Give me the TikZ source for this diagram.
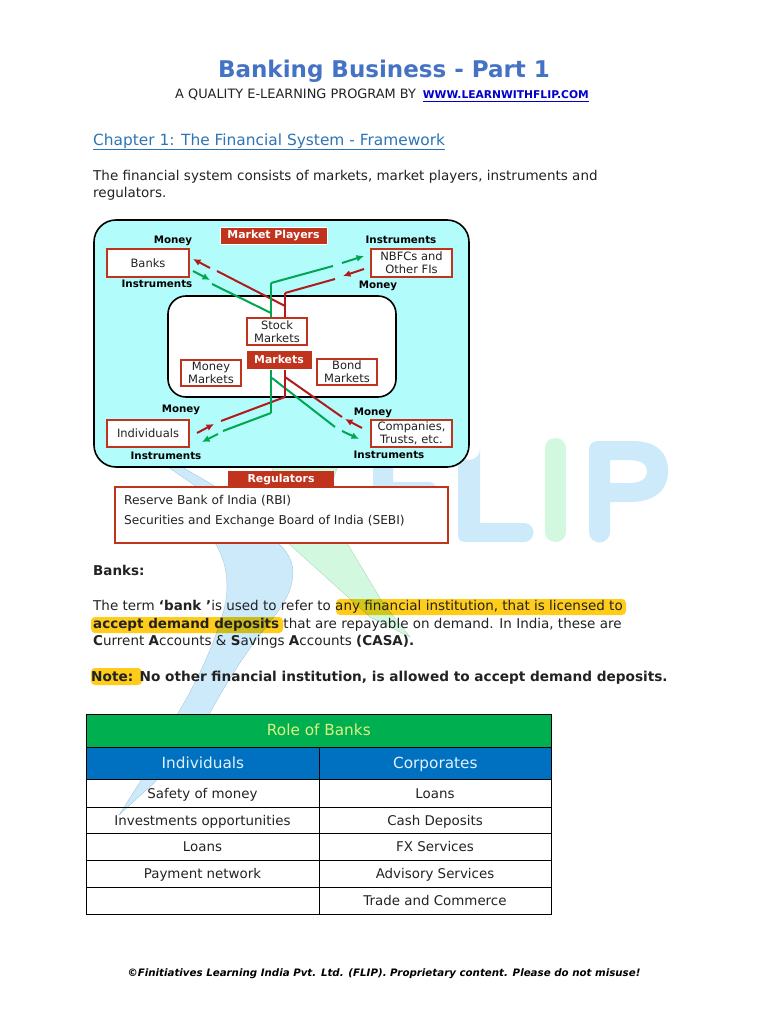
\documentclass[tikz,border=0pt]{standalone}
\usepackage{fontspec}
\setmainfont{DejaVu Sans}
\usetikzlibrary{calc, arrows.meta}
\definecolor{titleblue}{HTML}{4472C4}
\definecolor{chapterblue}{HTML}{2E74B5}
\definecolor{linkblue}{HTML}{0000CC}
\definecolor{panelcyan}{HTML}{B3FCFC}
\definecolor{boxred}{HTML}{C0341D}
\definecolor{flowred}{HTML}{B01C1C}
\definecolor{flowgreen}{HTML}{00A651}
\definecolor{markyellow}{HTML}{FFCC1A}
\definecolor{wmblue}{HTML}{CDEAFB}
\definecolor{wmgreen}{HTML}{D2F8E0}
\definecolor{tablegreen}{HTML}{00B050}
\definecolor{tableblue}{HTML}{0070C0}
\definecolor{rolelime}{HTML}{DDF27F}
\definecolor{headpale}{HTML}{E2F1FF}
\definecolor{bodyink}{HTML}{222222}
\newcommand{\fs}[2]{\fontsize{#1}{#2}\selectfont}

\begin{document}
\begin{tikzpicture}[x=1pt, y=-1pt,
    % Define the styles for the boxes
    playerbox/.style={draw=boxred, line width=2pt, fill=white, inner sep=0pt, align=center, text=bodyink, font=\fs{11.5}{13.2}},
    redbox/.style={fill=boxred, draw=white, line width=0.6pt, inner sep=0pt, text=white, text height=9pt, text depth=2.5pt, font=\bfseries\fs{10.9}{12}},
    flowlabel/.style={font=\bfseries\fs{10.3}{12}, text=black, inner sep=0pt},
    % Define the styles for the flows
    redflow/.style={draw=flowred, line width=2pt, line join=miter},
    greenflow/.style={draw=flowgreen, line width=2pt, line join=miter},
    tipflow/.style={-{Latex[length=7.5pt, width=7pt]}},
    bodytext/.style={anchor=north west, inner sep=0pt, align=left, text=bodyink, font=\fs{13.5}{17.5}},
    cellbox/.style={draw=black, line width=0.7pt, inner sep=0pt, text height=13pt, text depth=3pt},
    celltext/.style={text=bodyink, inner sep=0pt, text height=12pt, text depth=2pt, font=\fs{13.4}{16}},
    headtext/.style={text=headpale, font=\fs{15.3}{17}}
]
\useasboundingbox (0,0) rectangle (768,1024);

% Draw the highlights under the text
\fill[markyellow, rounded corners=4pt] (336,599) rectangle (626,615);
\fill[markyellow, rounded corners=4pt] (91,617) rectangle (283,633);
\fill[markyellow, rounded corners=4pt] (91,668) rectangle (142,685);

% Draw the watermark
\begin{scope}[blend mode=multiply]
\fill[wmblue] (458,449) arc[start angle=180, end angle=0, radius=11] -- (480,523) -- (524,523)
    arc[start angle=-90, end angle=90, radius=9.5] -- (466,542) .. controls (460,542) and (458,540) .. (458,534) -- cycle;
\fill[wmgreen, rounded corners=10pt] (545,438) rectangle (566,542);
\fill[wmblue, even odd rule] (589,451) .. controls (589,444) and (592,441) .. (599,441) -- (632,441)
    .. controls (656,441) and (668,452) .. (668,471) .. controls (668,491) and (654,502) .. (630,502) -- (610,502)
    -- (610,532) arc[start angle=0, end angle=180, radius=10.5] -- cycle
    (610,460) -- (610,483) -- (628,483) .. controls (641,483) and (647,479) .. (647,471) .. controls (647,464) and (641,460) .. (628,460) -- cycle;
\fill[wmblue] (373,450) -- (393,450) -- (393,482) -- (428,482) .. controls (433,482) and (435,484) .. (436,487) -- (373,487) -- cycle;
\draw[wmblue!70!gray, line width=0.3pt, fill=wmblue] (160,460) -- (168,467) -- (197,487) -- (215,543) .. controls (226,560) and (231,585) .. (223,613)
    .. controls (212,650) and (195,685) .. (178,713) -- (140,782) -- (119,815) -- (155,782) -- (210,713)
    .. controls (225,685) and (240,662) .. (256,640) .. controls (275,615) and (293,597) .. (293,572)
    .. controls (293,560) and (286,550) .. (278,543) -- (213,485) -- (182,467) -- (170,455) -- cycle;
\draw[wmgreen!70!gray, line width=0.3pt, fill=wmgreen] (288,543) -- (370,617) -- (410,637)
    -- (383,603) -- (347,543) -- (331,486) -- (340,460) -- (270,460) -- cycle;
\end{scope}

% Define the points of the flows
\coordinate (RedTop) at (285,293);
\coordinate (RedCross) at (285,306);
\coordinate (GreenTop) at (271,283);
\coordinate (GreenCross) at (271,313);
\coordinate (RedLow) at (285,397);
\coordinate (GreenLow) at (271,413);
\coordinate (RedSplit) at (285,377);
\coordinate (GreenSplit) at (272,378);

% Draw the panels
\draw[fill=panelcyan, line width=1.6pt, rounded corners=22pt] (94,220) rectangle (469,467);
\draw[fill=white, line width=1.6pt, rounded corners=18pt] (168,296) rectangle (396,397);

% Draw the flows next to the panel corners
\draw[redflow] (RedCross) -- (217,271);
\draw[redflow, tipflow] (210,268) -- (193,259);
\draw[redflow] (RedTop) -- (335,279);
\draw[redflow, tipflow] (364,269) -- (343,276);
\draw[greenflow] (GreenTop) -- (333,266);
\draw[greenflow, tipflow] (342,263) -- (364,256);
\draw[greenflow] (GreenCross) -- (212,284);
\draw[greenflow, tipflow] (193,271) -- (210,280);
\draw[redflow] (RedLow) -- (221,421);
\draw[redflow, tipflow] (197,433) -- (214,424);
\draw[greenflow] (GreenLow) -- (223,431);
\draw[greenflow, tipflow] (218,434) -- (202,442);
\draw[greenflow] (GreenSplit) -- (335,427);
\draw[greenflow, tipflow] (342,431) -- (359,439);
\draw[redflow] (RedSplit) -- (342,417);
\draw[redflow, tipflow] (362,428) -- (345,419);

% Add the boxes
\node[playerbox, minimum width=82pt, minimum height=28pt] (Banks) at (148,263) {Banks};
\node[playerbox, minimum width=81pt, minimum height=28pt] (Nbfc) at (411.5,263) {NBFCs and\\Other FIs};
\node[playerbox, minimum width=60pt, minimum height=27pt] (Stock) at (277,331.5) {Stock\\Markets};
\node[playerbox, minimum width=60pt, minimum height=26pt] (Money) at (211,373) {Money\\Markets};
\node[playerbox, minimum width=60pt, minimum height=26pt] (Bond) at (347,372) {Bond\\Markets};
\node[playerbox, minimum width=82pt, minimum height=27pt] (Individuals) at (148,433.5) {Individuals};
\node[playerbox, minimum width=81pt, minimum height=27pt] (Companies) at (411.5,433.5) {Companies,\\Trusts, etc.};
\node[redbox, minimum width=66pt, minimum height=19pt] (Markets) at (279,360) {Markets};
\node[redbox, minimum width=107pt, minimum height=17pt] (Players) at (273.5,235.5) {Market Players};

% Draw the vertical parts of the flows
\draw[redflow] (Stock.north -| RedTop) -- (RedTop);
\draw[greenflow] (Stock.north -| GreenTop) -- (GreenTop);
\draw[redflow] (Markets.south -| RedLow) -- (RedLow);
\draw[greenflow] (Markets.south -| GreenLow) -- (GreenLow);

% Add the flow labels
\node[flowlabel] (MoneyA) at (173,241) {Money};
\node[flowlabel] (InstrA) at (157,284) {Instruments};
\node[flowlabel] (InstrB) at (401,240) {Instruments};
\node[flowlabel] (MoneyB) at (378,286) {Money};
\node[flowlabel] (MoneyC) at (181,410) {Money};
\node[flowlabel] (InstrC) at (166,456) {Instruments};
\node[flowlabel] (MoneyD) at (373,413) {Money};
\node[flowlabel] (InstrD) at (389,455) {Instruments};

% Add the regulators
\node[fill=boxred, inner sep=0pt, minimum width=106pt, minimum height=17pt, text=white, text height=9pt, text depth=2.5pt, font=\bfseries\fs{10.9}{12}] (Regulators) at (281,479) {Regulators};
\node[draw=boxred, fill=white, line width=2pt, minimum width=333pt, minimum height=56pt, anchor=north west, inner sep=0pt] (RegList) at (114,486) {};
\node[anchor=west, inner sep=0pt, align=left, text=bodyink, font=\fs{12.2}{20}] (RegText) at (124,511) {Reserve Bank of India (RBI)\\Securities and Exchange Board of India (SEBI)};

% Add the headings
\node[inner sep=0pt, text=titleblue, font=\bfseries\fs{23}{26}] (Title) at (384,71) {Banking Business - Part 1};
\node[inner sep=0pt, anchor=west, text=bodyink, font=\fs{12.9}{14}] (Subtitle) at (175,95) {A QUALITY E-LEARNING PROGRAM BY};
\node[inner sep=0pt, anchor=east, text=linkblue, font=\bfseries\fs{10.7}{14}] (Link) at (589,95) {WWW.LEARNWITHFLIP.COM};
\draw[linkblue, line width=0.9pt] ($(Link.west)+(0,6.5)$) -- ($(Link.east)+(0,6.5)$);
\node[inner sep=0pt, anchor=west, text=chapterblue, font=\fs{15.4}{18}] (Chapter) at (93,141) {Chapter 1: The Financial System - Framework};
\draw[chapterblue, line width=0.8pt] ($(Chapter.west)+(0,8)$) -- ($(Chapter.east)+(0,8)$);
\node[bodytext] (Intro) at (93,170) {The financial system consists of markets, market players, instruments and\\regulators.};
\node[bodytext, font=\bfseries\fs{13.5}{17.5}] (BanksHead) at (93,565) {Banks:};
\node[bodytext] (BankText) at (93,600.5) {The term \textbf{‘bank ’}is used to refer to any financial institution, that is licensed to\\\textbf{accept demand deposits} that are repayable on demand. In India, these are\\\textbf{C}urrent \textbf{A}ccounts \& \textbf{S}avings \textbf{A}ccounts \textbf{(CASA).}};
\node[bodytext, font=\bfseries\fs{13.65}{17.5}] (NoteText) at (91,670.5) {Note: No other financial institution, is allowed to accept demand deposits.};

% Draw the table
\node[cellbox, fill=tablegreen, minimum width=465pt, minimum height=33pt, text=rolelime, font=\fs{15.3}{17}, anchor=north west] (RoleHead) at (86,714) {Role of Banks};
\node[cellbox, fill=tableblue, minimum width=233pt, minimum height=32pt, headtext, anchor=north west] (IndHead) at (86,747) {Individuals};
\node[cellbox, fill=tableblue, minimum width=232pt, minimum height=32pt, headtext, anchor=north west] (CorpHead) at (319,747) {Corporates};
\foreach \ytop/\ybot/\lefttext/\righttext in {779/807/Safety of money/Loans, 807/833/Investments opportunities/Cash Deposits, 833/860/Loans/FX Services, 860/887/Payment network/Advisory Services, 887/914//Trade and Commerce} {
    \draw[black, line width=0.7pt] (86,\ytop) rectangle (319,\ybot);
    \draw[black, line width=0.7pt] (319,\ytop) rectangle (551,\ybot);
    \node[celltext] at (202.5,{(\ytop+\ybot)/2}) {\lefttext};
    \node[celltext] at (435,{(\ytop+\ybot)/2}) {\righttext};
}

% Add the footer
\node[inner sep=0pt, text=black, font=\bfseries\itshape\fs{10.26}{14}] (Footer) at (384,974) {©Finitiatives Learning India Pvt. Ltd. (FLIP). Proprietary content. Please do not misuse!};

\end{tikzpicture}
\end{document}
